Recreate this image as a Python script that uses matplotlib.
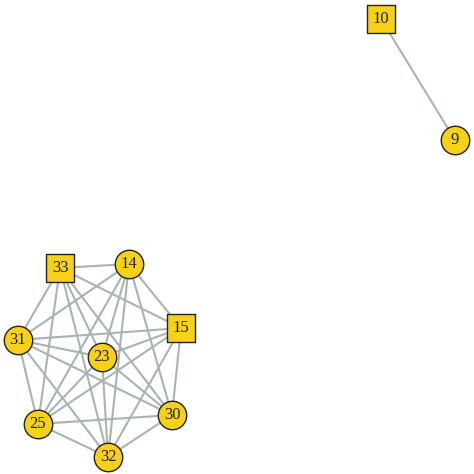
import matplotlib
matplotlib.use("Agg")
import matplotlib.pyplot as plt
from itertools import combinations

labels = ["10", "9", "33", "14", "15", "31", "23", "30", "25", "32"]
xs = [381, 455, 60, 129, 181, 18, 102, 172, 38, 108]
ys = [19, 140, 268, 264, 328, 340, 357, 415, 424, 457]
shapes = ["s", "o", "s", "o", "s", "o", "o", "o", "o", "o"]
cluster = ["33", "14", "15", "31", "23", "30", "25", "32"]
edges = [("10", "9")] + list(combinations(cluster, 2))

pos = {l: (x, y) for l, x, y in zip(labels, xs, ys)}
fig = plt.figure(figsize=(4.74, 4.74), dpi=100)
ax = fig.add_axes([0, 0, 1, 1])
ax.set_xlim(0, 474)
ax.set_ylim(474, 0)
ax.axis("off")
for a, b in edges:
    ax.plot([pos[a][0], pos[b][0]], [pos[a][1], pos[b][1]], color="#a9b3b3", lw=1.5, zorder=1)
for l, x, y, m in zip(labels, xs, ys, shapes):
    ax.scatter([x], [y], s=420 if m == "o" else 430, marker=m, facecolor="#f7d117",
               edgecolor="#222222", linewidth=1.0, zorder=2)
    ax.text(x, y, l, ha="center", va="center", fontsize=12, family="Liberation Serif",
            color="#222222", zorder=3)
fig.savefig("out.png", dpi=100)
